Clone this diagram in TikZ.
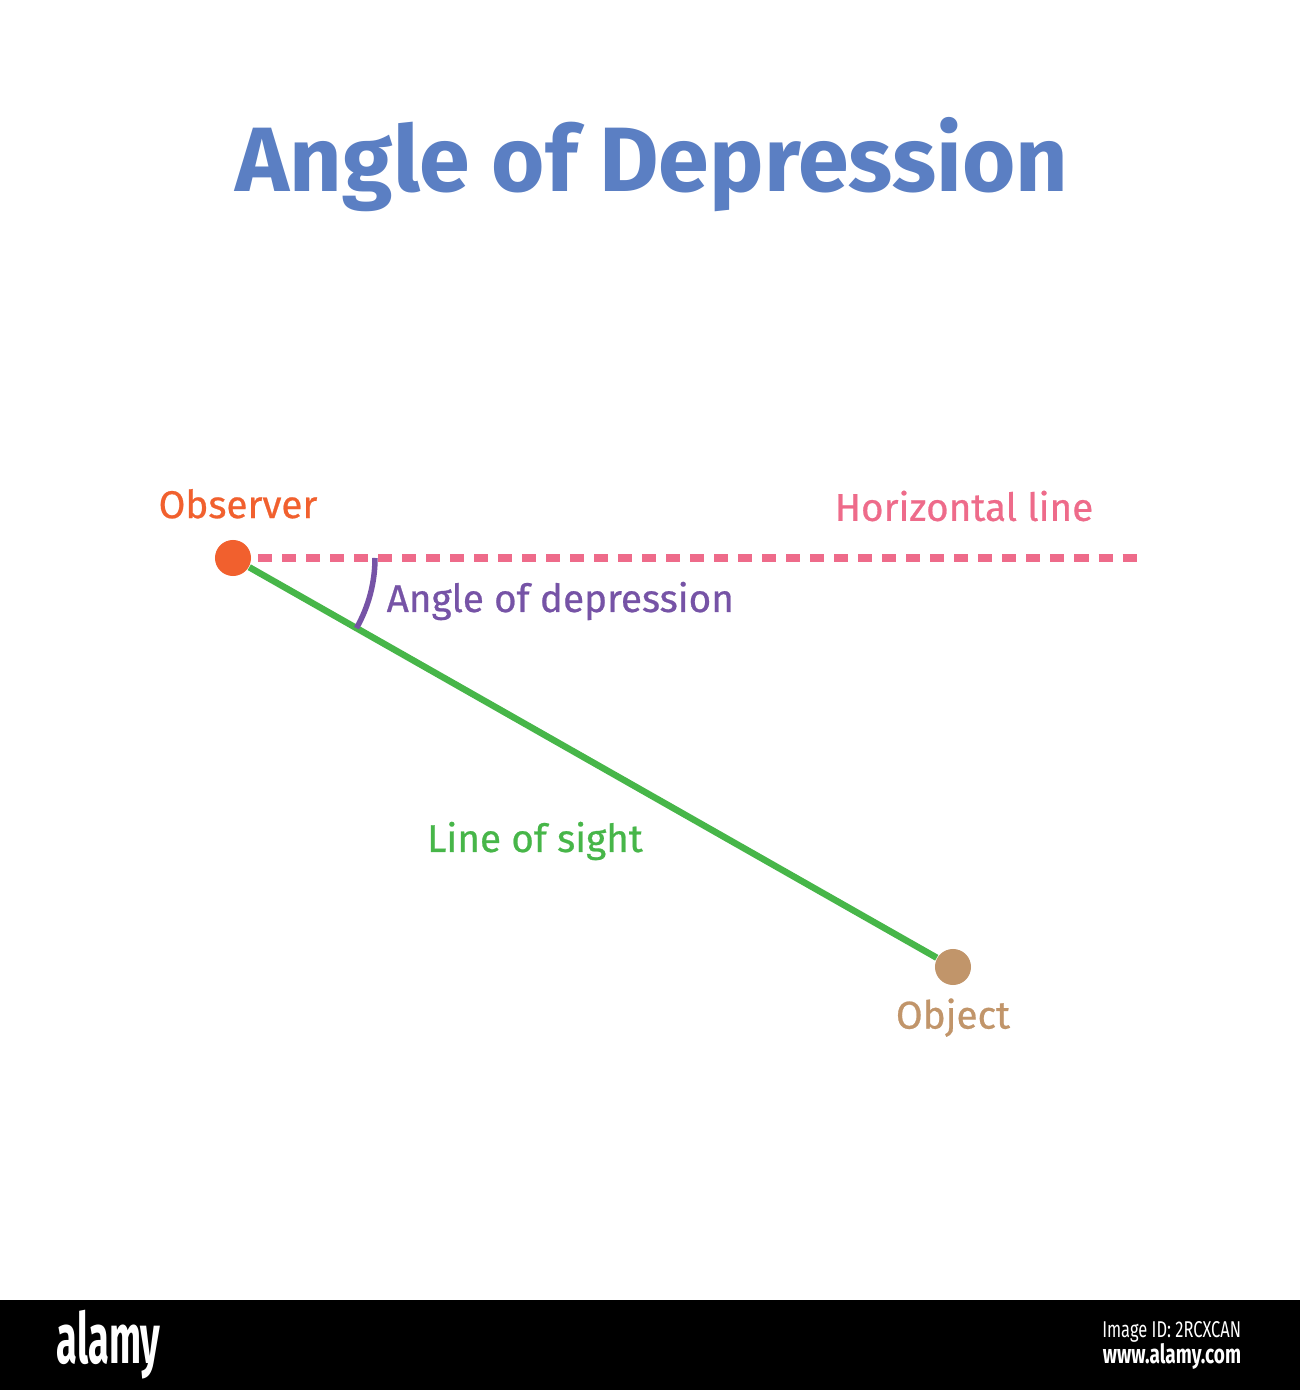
\documentclass[tikz,border=0pt]{standalone}
\usepackage{fontspec}
\setmainfont{Fira Sans}
\newfontfamily\lblfont[FakeBold=0.6]{Fira Sans}
\usetikzlibrary{positioning}
\definecolor{titleblue}{HTML}{5B7FC3}
\definecolor{obsorange}{HTML}{F1602E}
\definecolor{horpink}{HTML}{EE6B8A}
\definecolor{sightgreen}{HTML}{47B649}
\definecolor{objtan}{HTML}{C1956A}
\definecolor{anglepurple}{HTML}{7653A6}
\tikzset{
  dot/.style={circle, inner sep=0pt, minimum size=0.36cm},
  lbl/.style={font=\lblfont\fontsize{11}{13}\selectfont, inner sep=0pt},
}
\begin{document}
\begin{tikzpicture}[x=0.01cm, y=0.01cm]
    \useasboundingbox (0, 0) rectangle (1300, 1390);
    \fill [white] (0, 90) rectangle (1300, 1390);
    \fill [black] (0, 0) rectangle (1300, 90);
    % title
    \node [titleblue, font=\fontsize{26}{31}\selectfont\bfseries] (title) at (652, 1225) {Angle of Depression};
    % points
    \node [dot, fill=obsorange] (obs) at (233, 832) {};
    \node [dot, fill=objtan] (obj) at (953, 423) {};
    \coordinate (hstart) at (258, 832);
    \coordinate (hend) at (1140, 832);
    \draw [horpink, line width=0.08cm, dash pattern=on 0.14cm off 0.1cm] (hstart) -- (hend);
    \draw [sightgreen, line width=0.065cm] (obs) -- (obj);
    \draw [anglepurple, line width=0.055cm] (obs.center) ++(0:142) arc[start angle=0, end angle=-29.6, radius=142];
    % labels
    \node [lbl, obsorange, above=0.2cm of obs, xshift=0.05cm] (obslbl) {Observer};
    \node [lbl, horpink] (horlbl) at (964, 884) {Horizontal line};
    \node [lbl, anglepurple, anchor=west] (anglbl) at (386, 789) {Angle of depression};
    \node [lbl, sightgreen] (sightlbl) at (535, 549) {Line of sight};
    \node [lbl, objtan, below=0.12cm of obj] (objlbl) {Object};
    % banner
    \node [white, font=\fontsize{20}{24}\selectfont\bfseries, anchor=west, xscale=0.54] (logo) at (50, 45) {alamy};
    \node [white, font=\fontsize{6.5}{8}\selectfont, anchor=east, xscale=0.72] (imgid) at (1250, 58) {Image ID: 2RCXCAN};
    \node [white, font=\fontsize{7.5}{9}\selectfont\bfseries, anchor=east, xscale=0.72] (site) at (1250, 34) {www.alamy.com};
\end{tikzpicture}
\end{document}
